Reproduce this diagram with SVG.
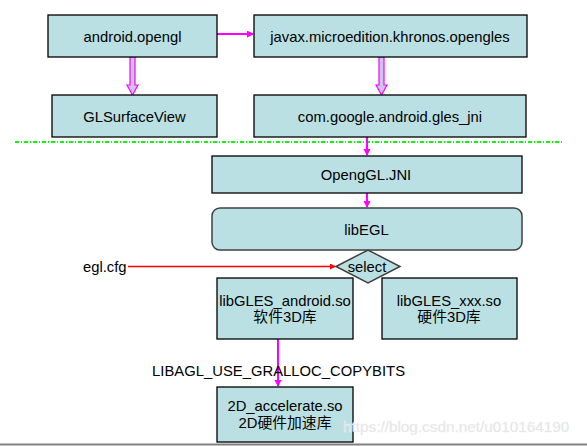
<svg xmlns="http://www.w3.org/2000/svg" width="587" height="446" viewBox="0 0 587 446">
<defs>
<style>
.box{fill:#BBE0E3;stroke:#000;stroke-width:1.3}
.soft{fill:#BBE0E3;stroke:#404040;stroke-width:1.5}
.t{font-family:"Liberation Sans",Arial,"Noto Sans CJK SC",sans-serif;font-size:14.8px;fill:#000;text-anchor:middle}
.tl{font-family:"Liberation Sans",Arial,sans-serif;font-size:14.8px;fill:#000}
.mag{stroke:#FF00FF;stroke-width:2;fill:none}
.hollow{fill:#CBC4EE;stroke:#FF00FF;stroke-width:1.2}
</style>
<marker id="mh" markerWidth="8" markerHeight="8" refX="6" refY="3.5" orient="auto" markerUnits="userSpaceOnUse">
<path d="M0,0 L7,3.5 L0,7 Z" fill="#FF00FF"/>
</marker>
<marker id="rh" markerWidth="8" markerHeight="8" refX="5" refY="3" orient="auto" markerUnits="userSpaceOnUse">
<path d="M0,0 L6,3 L0,6 Z" fill="#FF0000"/>
</marker>
</defs>
<rect width="587" height="446" fill="#fff"/>
<line x1="0" y1="444.5" x2="587" y2="444.5" stroke="#808080" stroke-width="2"/>
<line x1="15" y1="142" x2="563" y2="142" stroke="#00FF00" stroke-width="2" stroke-dasharray="4 2 1 2"/>

<g id="connectors">
<line class="mag" x1="217" y1="34" x2="253" y2="34" marker-end="url(#mh)"/>
<path class="hollow" d="M130,57 L135,57 L135,85 L138,85 L132.5,95 L127,85 L130,85 Z"/>
<path class="hollow" d="M379,57 L384,57 L384,85 L387,85 L381.5,95 L376,85 L379,85 Z"/>
<line class="mag" x1="367" y1="137" x2="367" y2="155" marker-end="url(#mh)"/>
<line class="mag" x1="367" y1="193" x2="367" y2="207" marker-end="url(#mh)"/>
<line x1="128" y1="266.5" x2="335" y2="266.5" stroke="#FF0000" stroke-width="1.3" marker-end="url(#rh)"/>
<line class="mag" x1="278" y1="339" x2="278" y2="386" marker-end="url(#mh)"/>
<text class="tl" x="152" y="376" textLength="253">LIBAGL_USE_GRALLOC_COPYBITS</text>
</g>

<g id="android-opengl"><rect class="box" x="48" y="15" width="169" height="42"/><text class="t" x="132.5" y="41.5">android.opengl</text></g>
<g id="javax"><rect class="box" x="254" y="15" width="273" height="42"/><text class="t" x="390" y="41.5">javax.microedition.khronos.opengles</text></g>
<g id="glsurfaceview"><rect class="box" x="52" y="95" width="165" height="42"/><text class="t" x="134.5" y="121.5">GLSurfaceView</text></g>
<g id="gles-jni"><rect class="box" x="254" y="95" width="272" height="42"/><text class="t" x="390" y="121.5">com.google.android.gles_jni</text></g>
<g id="opengl-jni"><rect class="box" x="212" y="156" width="310" height="37"/><text class="t" x="366" y="180">OpengGL.JNI</text></g>
<g id="libegl"><rect class="soft" x="212" y="208" width="310" height="42" rx="8"/><text class="t" x="366.5" y="234.5">libEGL</text></g>
<g id="select"><path class="soft" d="M336,266.5 L368,250 L400,266.5 L368,283 Z"/><text class="t" x="367" y="271.5">select</text></g>
<g id="eglcfg"><text class="tl" x="83" y="271.5">egl.cfg</text></g>
<g id="libgles-android"><rect class="box" x="217" y="278" width="136" height="61"/><text class="t" x="285" y="306">libGLES_android.so</text><text class="t" x="285" y="322">软件3D库</text></g>
<g id="libgles-xxx"><rect class="box" x="382" y="278" width="135" height="61"/><text class="t" x="449" y="306">libGLES_xxx.so</text><text class="t" x="449" y="322">硬件3D库</text></g>
<g id="accelerate"><rect class="box" x="217" y="387" width="136" height="55"/><text class="t" x="285" y="411">2D_accelerate.so</text><text class="t" x="285" y="428">2D硬件加速库</text></g>
<text x="343" y="432" font-family="'Liberation Sans',Arial,sans-serif" font-size="15.3px" fill="#e2e2e2" stroke="#f2f2f2" stroke-width="0.3">https://blog.csdn.net/u010164190</text>
</svg>
